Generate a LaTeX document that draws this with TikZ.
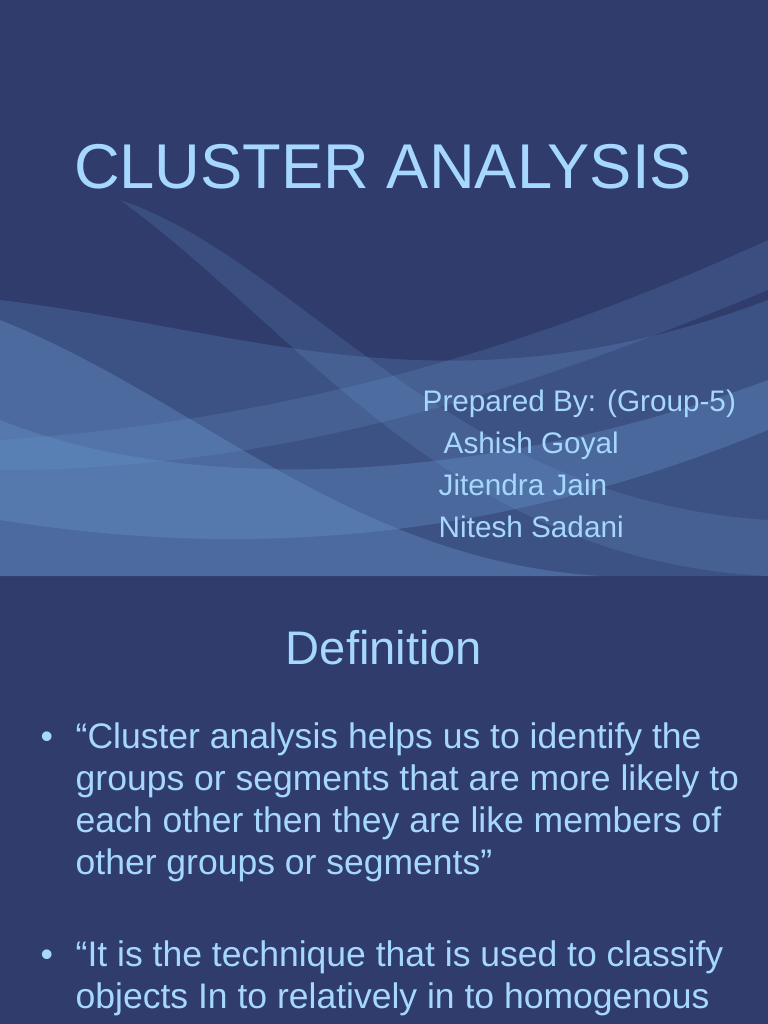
\documentclass[tikz,border=0pt]{standalone}
\usepackage{fontspec}
\setmainfont{Liberation Sans}
\begin{document}
\begin{tikzpicture}[x=0.01cm,y=-0.01cm,
  txt/.style={text=lb,anchor=base west,inner sep=0pt},
  swoosh/.style={fill=sw,draw=none}]
\definecolor{bg}{HTML}{2F3C6C}
\definecolor{lb}{HTML}{A6D8FF}
\definecolor{sw}{HTML}{6FA3DA}
\useasboundingbox (0,0) rectangle (768,1024);
\fill[bg] (0,0) rectangle (768,576);
\fill[bg] (0,576) rectangle (768,1024);
% swooshes
\begin{scope}
\clip (0,0) rectangle (768,576);
\fill[swoosh,opacity=0.22] (0,300) .. controls (250,330) and (450,420) .. (768,300) -- (768,576) -- (0,576) -- cycle;
\fill[swoosh,opacity=0.3] (0,320) .. controls (200,400) and (350,560) .. (600,576) -- (0,576) -- cycle;
\fill[swoosh,opacity=0.28] (0,420) .. controls (200,500) and (500,480) .. (768,380) -- (768,430) .. controls (500,540) and (250,560) .. (0,520) -- cycle;
\fill[swoosh,opacity=0.18] (120,200) .. controls (300,260) and (450,500) .. (768,520) -- (768,576) .. controls (450,560) and (300,330) .. (120,200) -- cycle;
\fill[swoosh,opacity=0.18] (0,440) .. controls (300,420) and (550,340) .. (768,240) -- (768,290) .. controls (550,380) and (300,470) .. (0,470) -- cycle;
\end{scope}
\node[txt,anchor=base,font=\fontsize{18}{20}\selectfont] (title) at (383,188) {CLUSTER ANALYSIS};
\begin{scope}[every node/.append style={txt,font=\fontsize{8.45}{10}\selectfont}]
\node (p0) at (422,411) {Prepared By: (Group-5)};
\node (p1) at (443,453) {Ashish Goyal};
\node (p2) at (438,495) {Jitendra Jain};
\node (p3) at (438,537) {Nitesh Sadani};
\end{scope}
\node[txt,anchor=base,font=\fontsize{13.4}{15}\selectfont] (def) at (384,664) {Definition};
\begin{scope}[every node/.append style={txt,font=\fontsize{10.1}{12}\selectfont}]
\node (b1) at (40,748) {\textbullet};
\node (l1) at (75,748) {“Cluster analysis helps us to identify the};
\node (l2) at (75,790) {groups or segments that are more likely to};
\node (l3) at (75,832) {each other then they are like members of};
\node (l4) at (75,874) {other groups or segments”};
\node (b2) at (40,966) {\textbullet};
\node (l5) at (75,966) {“It is the technique that is used to classify};
\node (l6) at (75,1008) {objects In to relatively in to homogenous};
\end{scope}
\end{tikzpicture}
\end{document}
